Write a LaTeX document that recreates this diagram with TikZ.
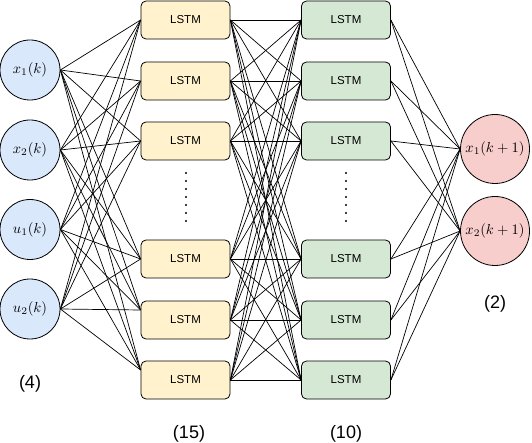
\documentclass[tikz,border=0pt]{standalone}
\usepackage{graphicx}
\usepackage{fontspec}
\setmainfont{Liberation Sans}
\definecolor{blueF}{HTML}{DAE8FC}
\definecolor{yellowF}{HTML}{FFF2CC}
\definecolor{greenF}{HTML}{D5E8D4}
\definecolor{redF}{HTML}{F8CECC}
\newcommand{\mylbl}[1]{\scalebox{1.45}{$#1$}}
\begin{document}
\begin{tikzpicture}[x=1pt,y=-1pt,
  every node/.style={inner sep=0pt},
  inp/.style={circle,draw=black,fill=blueF,minimum size=60pt,line width=0.8pt},
  outp/.style={circle,draw=black,fill=redF,minimum size=69pt,line width=0.8pt},
  ybox/.style={rectangle,rounded corners=5pt,draw=black,fill=yellowF,minimum width=89pt,minimum height=38pt,line width=0.8pt,font=\fontsize{11.5}{13}\selectfont},
  gbox/.style={ybox,fill=greenF},
  conn/.style={line width=0.7pt,black},
  lbl/.style={font=\fontsize{18}{20}\selectfont},
  dotmark/.style={fill=black}
]
\useasboundingbox (0,0) rectangle (532,443);

% input nodes
\node[inp] (in1) at (30,70) {\mylbl{x_1(k)}};
\node[inp] (in2) at (30,150) {\mylbl{x_2(k)}};
\node[inp] (in3) at (30,229.5) {\mylbl{u_1(k)}};
\node[inp] (in4) at (30,309) {\mylbl{u_2(k)}};

% LSTM layers
\foreach \i/\yy in {1/20,2/81,3/141,4/259,5/320,6/380}{
  \node[ybox] (y\i) at (185.5,\yy) {LSTM};
  \node[gbox] (g\i) at (346,\yy) {LSTM};
}

% outputs
\node[outp] (o1) at (495,149) {\mylbl{x_1(k+1)}};
\node[outp] (o2) at (495,231) {\mylbl{x_2(k+1)}};

% dots
\foreach \k in {0,...,6}{
  \fill[dotmark] (186,173+8*\k) circle (1.1pt);
  \fill[dotmark] (346,173+8*\k) circle (1.1pt);
}

% input -> LSTM
\foreach \i in {1,...,4}{
  \foreach \j in {1,...,4}{
    \draw[conn] (in\i.east) -- (y\j.west);
  }
  \foreach \j in {5,6}{
    \draw[conn] (in\i.east) -- ([yshift=10pt]y\j.west);
  }
}

% LSTM -> LSTM
\foreach \i in {1,...,6}{
  \foreach \j in {1,...,6}{
    \draw[conn] (y\i.east) -- (g\j.west);
  }
}

% LSTM -> outputs
\foreach \i in {1,...,6}{
  \draw[conn] (g\i.east) -- (o1.west);
  \draw[conn] (g\i.east) -- (o2.west);
}

% labels
\node[lbl] (l4) at (30,384) {(4)};
\node[lbl] (l15) at (189,434) {(15)};
\node[lbl] (l10) at (346,434) {(10)};
\node[lbl] (l2) at (495,304) {(2)};
\end{tikzpicture}
\end{document}
